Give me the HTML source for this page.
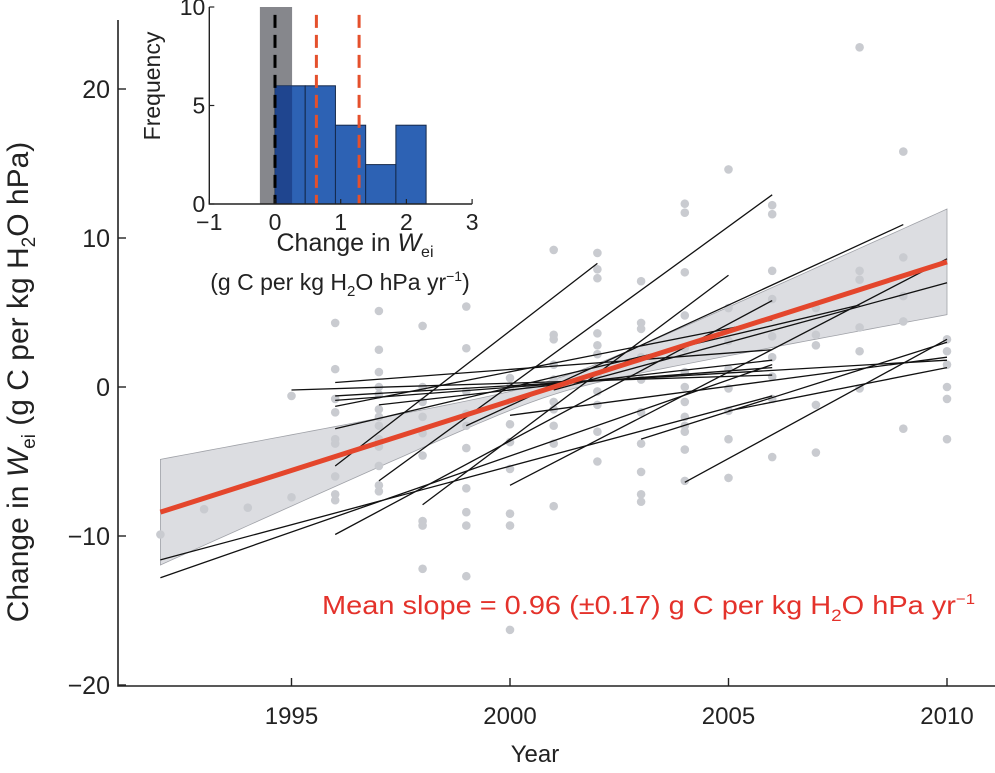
<!DOCTYPE html>
<html><head><meta charset="utf-8"><style>
body{margin:0;background:#fff;}
svg text{font-family:"Liberation Sans",sans-serif;fill:#222;}
</style></head><body>
<svg id="chart" width="995" height="768" viewBox="0 0 995 768">
<g id="band"></g>
<g id="points"></g>
<g id="segs"></g>
<g id="mean"></g>
<g id="axes"></g>
<text x="322" y="614" font-size="26" textLength="653" lengthAdjust="spacingAndGlyphs" style="fill:#e4322b">Mean slope = 0.96 (±0.17) g C per kg H<tspan font-size="17" dy="7">2</tspan><tspan dy="-7">O hPa yr</tspan><tspan font-size="15" dy="-10">−1</tspan></text>
<text x="535" y="762" font-size="24" text-anchor="middle">Year</text>
<text transform="translate(28 382) rotate(-90)" font-size="30" text-anchor="middle">Change in <tspan font-style="italic">W</tspan><tspan font-size="19" dy="7">ei</tspan><tspan dy="-7"> (g C per kg H</tspan><tspan font-size="19" dy="7">2</tspan><tspan dy="-7">O hPa)</tspan></text>
<g id="inset"></g>
<text x="355" y="251" font-size="25" text-anchor="middle">Change in <tspan font-style="italic">W</tspan><tspan font-size="16" dy="6">ei</tspan></text>
<text x="340" y="290" font-size="23" text-anchor="middle">(g C per kg H<tspan font-size="15" dy="6">2</tspan><tspan dy="-6">O hPa yr</tspan><tspan font-size="14" dy="-9">−1</tspan><tspan dy="9">)</tspan></text>
<text transform="translate(160 86) rotate(-90)" font-size="23" text-anchor="middle">Frequency</text>
</svg>
<script>
const NS="http://www.w3.org/2000/svg";
const xTicks=[1995,2000,2005,2010];
const yTicks=[-20,-10,0,10,20];
const pointYears=[1992,1993,1994,1995,1996,1997,1998,1999,2000,2001,2002,2003,2004,2005,2006,2007,2008,2009,2010];
const pointValues=[[-9.9],[-8.2],[-8.1],[-0.6,-7.4],[4.3,1.2,-0.8,-1.7,-3.5,-3.8,-6,-7.2,-7.6],[5.1,2.5,1,0,-0.5,-1.5,-2,-2.6,-3.5,-4,-5.3,-6.6,-7],[4.1,0,-1,-2,-3.1,-4.6,-9,-9.3,-12.2],[5.4,2.6,-0.3,-1.8,-2.6,-4.1,-6.8,-8.4,-9.3,-12.7],[0.6,0,-1,-2.5,-3.7,-5.5,-8.5,-9.3,-16.3],[9.2,3.5,3.2,1.5,0.5,-1,-1.5,-2.6,-3.8,-8],[9,7.9,7.3,3.6,2.8,2.2,0.8,-0.3,-1.2,-3,-5],[7.1,4.3,3.9,2,0.5,-1.7,-3.8,-5.7,-7.2,-7.7],[12.3,11.7,7.7,4.8,2.6,1,0,-1,-2,-2.6,-3,-4.2,-6.3],[14.6,5.3,3.1,1.2,-0.1,-1.6,-3.5,-6.1],[12.2,11.6,7.8,5.9,3.4,2,0.7,-0.8,-4.7],[5.3,3.5,2.8,-1.2,-4.4],[22.8,7.8,7.2,4,2.4,-0.1],[15.8,8.7,6.1,4.4,-2.8],[3.2,2.4,1.5,0,-0.8,-3.5]];
const segStartYear=[1992,1992,1995,1996,1996,1996,1996,1996,1996,1996,1997,1998,1999,2000,2000,2001,2003,2004,2005,1997];
const segStartVal=[-12.8,-11.6,-0.2,0.3,-0.6,-0.9,-1.3,-2.8,-5.3,-9.9,-6.3,-7.9,-2.6,-6.6,-1.9,-0.2,-3.5,-6.4,-1.6,-1.2];
const segEndYear=[2006,2006,2006,2006,2010,2006,2006,2008,2002,2006,2006,2005,2009,2010,2010,2010,2010,2010,2010,2006];
const segEndVal=[1.5,-0.6,0.8,2.5,1.8,1.3,4.5,5.5,8.3,5.8,12.9,7.5,10.9,8.6,2,7,3,3.2,1.3,1.8];
const meanYears=[1992,2010];
const meanVals=[-8.4,8.4];
const bandCenterYear=2001, bandMinHalf=0.5, bandSpread=0.152;
const histEdges=[0,0.46,0.92,1.38,1.84,2.3];
const histCounts=[6,6,4,2,4];
const nullBand=[-0.23,0.26];
const ciLines=[0.63,1.28];
const insetXTicks=[-1,0,1,2,3];
const insetYTicks=[0,5,10];

const X=v=>510+(v-2000)*43.7, Y=v=>387-v*14.9;
function mk(tag,attrs,parent){const e=document.createElementNS(NS,tag);for(const k in attrs)e.setAttribute(k,attrs[k]);parent.appendChild(e);return e;}
const $=id=>document.getElementById(id);
let up=[],lo=[];
for(let t=1992;t<=2010.001;t+=0.25){const m=meanVals[0]+(t-meanYears[0])*(meanVals[1]-meanVals[0])/(meanYears[1]-meanYears[0]);const w=Math.sqrt(bandMinHalf*bandMinHalf+bandSpread*(t-bandCenterYear)**2);up.push(X(t)+","+Y(m+w));lo.unshift(X(t)+","+Y(m-w));}
const bp=mk('polygon',{points:up.concat(lo).join(' '),fill:'#dcdde1',stroke:'#a0a2a8','stroke-width':0.8},$('band'));


pointYears.forEach((yr,i)=>pointValues[i].forEach(v=>{const c=mk('circle',{cx:X(yr),cy:Y(v),r:4.3,fill:'#c9cbd0'},$('points'));

}));
segStartYear.forEach((s,i)=>{const l=mk('line',{x1:X(s),y1:Y(segStartVal[i]),x2:X(segEndYear[i]),y2:Y(segEndVal[i]),stroke:'#111','stroke-width':1.3},$('segs'));

});
const ml=mk('line',{x1:X(meanYears[0]),y1:Y(meanVals[0]),x2:X(meanYears[1]),y2:Y(meanVals[1]),stroke:'#e4462c','stroke-width':5},$('mean'));


const ax=$('axes');
mk('polyline',{points:`118,20 118,686 995,686`,fill:'none',stroke:'#222','stroke-width':1.6},ax);
xTicks.forEach(t=>{mk('line',{x1:X(t),y1:686,x2:X(t),y2:678,stroke:'#222','stroke-width':1.4},ax);
const tx=mk('text',{x:X(t),y:724,'font-size':24,'text-anchor':'middle'},ax);tx.textContent=t;

});
yTicks.forEach(t=>{mk('line',{x1:118,y1:Y(t),x2:126,y2:Y(t),stroke:'#222','stroke-width':1.4},ax);
const tx=mk('text',{x:110,y:Y(t)+9,'font-size':25,'text-anchor':'end'},ax);tx.textContent=t<0?'−'+(-t):t;

});
const IX=v=>275+v*65.7, IY=v=>204-v*19.7, ins=$('inset');
mk('rect',{x:IX(nullBand[0]),y:IY(10),width:IX(nullBand[1])-IX(nullBand[0]),height:IY(0)-IY(10),fill:'#86878c'},ins);
histCounts.forEach((c,i)=>{const r=mk('rect',{x:IX(histEdges[i]),y:IY(c),width:IX(histEdges[i+1])-IX(histEdges[i]),height:IY(0)-IY(c),fill:'#2d62b4',stroke:'#14284a','stroke-width':1},ins);

});
mk('rect',{x:IX(histEdges[0]),y:IY(histCounts[0]),width:IX(nullBand[1])-IX(histEdges[0]),height:IY(0)-IY(histCounts[0]),fill:'#1b3f86',opacity:0.8},ins);
mk('line',{x1:IX(0),y1:IY(9.6),x2:IX(0),y2:IY(0),stroke:'#000','stroke-width':3,'stroke-dasharray':'13,7'},ins);
ciLines.forEach(v=>{const l=mk('line',{x1:IX(v),y1:IY(9.6),x2:IX(v),y2:IY(0),stroke:'#e4502c','stroke-width':3,'stroke-dasharray':'13,7'},ins);

});
mk('polyline',{points:`${IX(-1)},${IY(10)} ${IX(-1)},${IY(0)} ${IX(3)},${IY(0)}`,fill:'none',stroke:'#222','stroke-width':1.4},ins);
insetXTicks.forEach(t=>{mk('line',{x1:IX(t),y1:IY(0),x2:IX(t),y2:IY(0)-5,stroke:'#222','stroke-width':1.2},ins);
const tx=mk('text',{x:IX(t),y:IY(0)+26,'font-size':23,'text-anchor':'middle'},ins);tx.textContent=t<0?'−'+(-t):t;

});
insetYTicks.forEach(t=>{mk('line',{x1:IX(-1),y1:IY(t),x2:IX(-1)+5,y2:IY(t),stroke:'#222','stroke-width':1.2},ins);
const tx=mk('text',{x:IX(-1)-4,y:IY(t)+8,'font-size':23,'text-anchor':'end'},ins);tx.textContent=t;

});
</script>
</body></html>
